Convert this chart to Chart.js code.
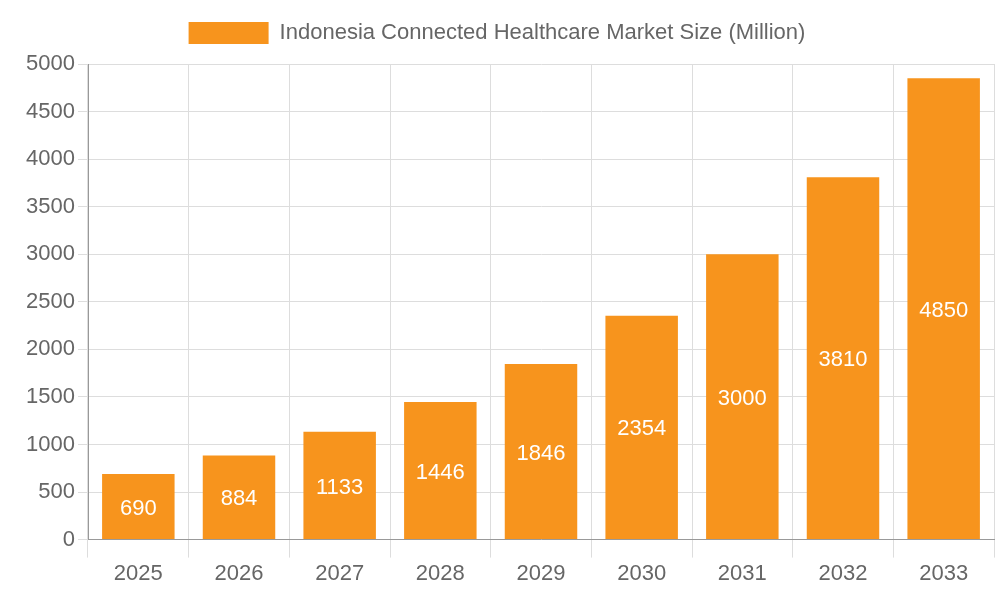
<!DOCTYPE html>
<html><head><meta charset="utf-8">
<script src="https://cdn.jsdelivr.net/npm/chart.js@4"></script>
<style>html,body{margin:0;padding:0;background:#fff}#w{width:1000px;height:600px}</style>
</head><body><div id="w"><canvas id="c"></canvas></div>
<script>
const categories = ["2025","2026","2027","2028","2029","2030","2031","2032","2033"];
const values = [690,884,1133,1446,1846,2354,3000,3810,4850];
const seriesLabel = "Indonesia Connected Healthcare Market Size (Million)";
const barColor = "#F7941D";
const valueLabels = {
  id:'valueLabels',
  afterDatasetsDraw(chart){
    const ctx=chart.ctx; const meta=chart.getDatasetMeta(0);
    ctx.save(); ctx.fillStyle='#fff'; ctx.font='22px "Liberation Sans", Arial, sans-serif';
    ctx.textAlign='center'; ctx.textBaseline='middle';
    meta.data.forEach((b,i)=>{ ctx.fillText(String(values[i]), b.x, (b.y+b.base)/2+2); });
    ctx.restore();
  }
};
Chart.defaults.font.family='"Liberation Sans", Arial, sans-serif';
Chart.defaults.font.size=22;
Chart.defaults.color='#666';
new Chart(document.getElementById('c'),{
  type:'bar',
  data:{labels:categories,datasets:[{label:seriesLabel,data:values,backgroundColor:barColor,borderWidth:0,categoryPercentage:0.8,barPercentage:0.9}]},
  options:{responsive:true,maintainAspectRatio:false,animation:false,
    layout:{padding:{top:12,right:6,bottom:10}},
    plugins:{legend:{labels:{boxWidth:80,boxHeight:22,font:{size:22},padding:10}},tooltip:{enabled:false}},
    scales:{
      y:{min:0,max:5000,afterFit(s){s.width=88;},ticks:{stepSize:500,font:{size:22},callback:v=>String(v)},grid:{color:'#ddd',tickLength:10},border:{color:'#999'}},
      x:{ticks:{font:{size:22}},grid:{color:'#ddd',tickLength:18},border:{color:'#999'}}
    }}
  ,plugins:[valueLabels,{id:'lp',beforeInit(c){const f=c.legend.fit;c.legend.fit=function(){f.bind(c.legend)();this.height+=10;};}}]});
</script></body></html>
